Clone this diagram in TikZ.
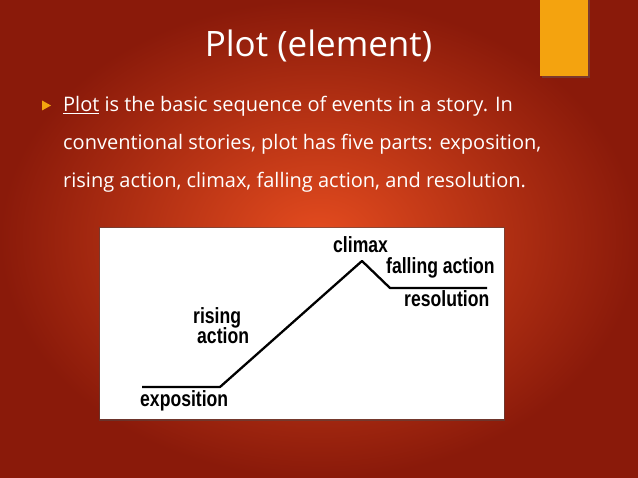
\documentclass[tikz,border=0pt]{standalone}
\usepackage{fontspec}
\setmainfont{Open Sans}
\newfontfamily\lblfont[FakeStretch=0.8]{Liberation Sans}
\usetikzlibrary{shadings}
\definecolor{bgin}{HTML}{E54C1F}
\definecolor{bgout}{HTML}{8A1A0A}
\definecolor{accent}{HTML}{F4A30F}
\tikzset{
  bodytext/.style={anchor=base west, text=white, font=\fontsize{20}{22}\selectfont, inner sep=0pt},
  lbl/.style={anchor=base west, font=\lblfont\bfseries\fontsize{22}{22}\selectfont, inner sep=0pt, text=black},
  plotline/.style={line width=2.3pt, black, line join=round},
}
\begin{document}
\begin{tikzpicture}[x=1pt,y=-1pt]
\useasboundingbox (0,0) rectangle (638,478);
\shade[inner color=bgin, outer color=bgout] (0,0) rectangle (638,478);
% accent bar
\fill[black!60,opacity=0.4] (542,0) rectangle (590,78);
\fill[accent] (540,0) rectangle (588,76);
% title
\node[anchor=base, text=white, font=\fontsize{35}{38}\selectfont, inner sep=0pt] (title) at (318.5,57) {Plot (element)};
% bullet
\fill[accent] (42,100.5) -- (51,105.5) -- (42,110.5) -- cycle;
\node[bodytext] (l1) at (63,112) {\underline{Plot} is the basic sequence of events in a story. In};
\node[bodytext] (l2) at (63,150) {conventional stories, plot has five parts: exposition,};
\node[bodytext] (l3) at (63,188) {rising action, climax, falling action, and resolution.};
% white box
\fill[black!70,opacity=0.5] (99,227) rectangle (505,421);
\node[fill=white, minimum width=404pt, minimum height=191pt, inner sep=0pt, anchor=north west] (box) at (100,228) {};
% plot
\coordinate (a) at (142,387);
\coordinate (b) at (220,387);
\coordinate (c) at (362,261);
\coordinate (d) at (390,288);
\coordinate (e) at (487,288);
\draw[plotline] (a) -- (b) -- (c) -- (d) -- (e);
\node[lbl] (climax) at (333,253) {climax};
\node[lbl] (falling) at (386,274) {falling action};
\node[lbl] (resol) at (404,307) {resolution};
\node[lbl] (rising) at (193,324) {rising};
\node[lbl] (action) at (197,344) {action};
\node[lbl] (expo) at (140,407) {exposition};
\end{tikzpicture}
\end{document}
